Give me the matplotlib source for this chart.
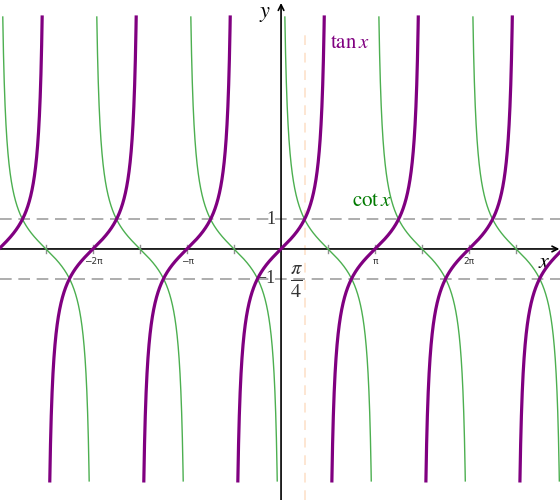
import numpy as np
import matplotlib
matplotlib.use('Agg')
import matplotlib.pyplot as plt

plt.rcParams['mathtext.fontset'] = 'stix'

# view window (in x units, y units)
x_min, x_max = -9.39, 9.32
y_min, y_max = -8.45, 8.38
y_clip = 7.85

tan_branches = [-3, -2, -1, 0, 1, 2, 3]      # branch centres k*pi
cot_branches = [-4, -3, -2, -1, 0, 1, 2, 3]  # branch from k*pi to (k+1)*pi
x_tick_steps = np.arange(-5, 6)              # multiples of pi/2
x_tick_labels = {-4: '\u22122\u03c0', -2: '\u2212\u03c0', 2: '\u03c0', 4: '2\u03c0'}
h_lines = [1, -1]
v_line = np.pi / 4

purple = '#800080'
green = '#4caf50'

fig = plt.figure(figsize=(5.6, 5.0), dpi=100)
ax = fig.add_axes([0, 0, 1, 1])
ax.set_xlim(x_min, x_max)
ax.set_ylim(y_min, y_max)
ax.axis('off')

# helper lines
for h in h_lines:
    ax.axhline(h, color='#a0a0a0', lw=1.2, dashes=(7, 4), zorder=1)
ax.plot([v_line, v_line], [y_min, 7.3], color='#fde6d2', lw=1.4, dashes=(5, 4), zorder=1)

# axes with arrows
ax.annotate('', xy=(x_max - 0.02, 0), xytext=(x_min, 0),
            arrowprops=dict(arrowstyle='->', color='black', lw=1.2, shrinkA=0, shrinkB=0), zorder=2)
ax.annotate('', xy=(0, y_max - 0.1), xytext=(0, y_min),
            arrowprops=dict(arrowstyle='->', color='black', lw=1.2, shrinkA=0, shrinkB=0), zorder=2)

for s in x_tick_steps:
    if s == 0:
        continue
    xv = s * np.pi / 2
    ax.plot([xv, xv], [-0.13, 0.13], color='#909090', lw=1, zorder=2)
    if s in x_tick_labels:
        ax.text(xv, -0.28, x_tick_labels[s], ha='center', va='top', fontsize=6.5,
                family='DejaVu Sans', color='#333333')

# cot x
for k in cot_branches:
    xs = np.linspace(k * np.pi + 1e-4, (k + 1) * np.pi - 1e-4, 2000)
    ys = 1 / np.tan(xs)
    ys = np.where(np.abs(ys) <= y_clip, ys, np.nan)
    ax.plot(xs, ys, color=green, lw=1.0, zorder=3)

# tan x
for k in tan_branches:
    xs = np.linspace(k * np.pi - np.pi / 2 + 1e-4, k * np.pi + np.pi / 2 - 1e-4, 2000)
    ys = np.tan(xs)
    ys = np.where(np.abs(ys) <= y_clip, ys, np.nan)
    ax.plot(xs, ys, color=purple, lw=2.3, zorder=4)

# labels
ax.text(-0.18, 1, '1', ha='right', va='center', fontsize=13, color='#333333', family='Liberation Serif')
ax.text(-0.18, -1, '\u22121', ha='right', va='center', fontsize=13, color='#333333', family='Liberation Serif')
ax.text(0.52, -1.1, r'$\frac{\pi}{4}$', ha='center', va='center', fontsize=21, color='#333333')
ax.text(-0.55, 7.9, r'$y$', ha='center', va='center', fontsize=16, color='black')
ax.text(8.8, -0.45, r'$x$', ha='center', va='center', fontsize=16, color='black')
ax.text(1.62, 6.95, r'$\tan x$', ha='left', va='center', fontsize=15, color=purple)
ax.text(2.38, 1.65, r'$\cot x$', ha='left', va='center', fontsize=15, color='#007a00')

fig.savefig('out.png', dpi=100)
